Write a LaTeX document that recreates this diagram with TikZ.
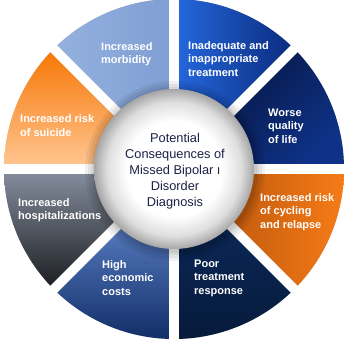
\documentclass[tikz,border=0pt]{standalone}
\usepackage{fontspec}
\setmainfont{Liberation Sans}
\usetikzlibrary{calc}
\definecolor{morbA}{HTML}{94B1DE}
\definecolor{morbB}{HTML}{7F9ED3}
\definecolor{inadA}{HTML}{2466DB}
\definecolor{inadB}{HTML}{0B2C80}
\definecolor{worseA}{HTML}{06143C}
\definecolor{worseB}{HTML}{0E3287}
\definecolor{cycA}{HTML}{B0500C}
\definecolor{cycB}{HTML}{F67B16}
\definecolor{poorA}{HTML}{0E2D63}
\definecolor{poorB}{HTML}{061A3A}
\definecolor{highA}{HTML}{7098E0}
\definecolor{highB}{HTML}{122E68}
\definecolor{hospA}{HTML}{838B9B}
\definecolor{hospB}{HTML}{1D1F23}
\definecolor{suiA}{HTML}{F67808}
\definecolor{suiB}{HTML}{FFC48E}
\definecolor{centertext}{HTML}{1C2248}
\pgfdeclareradialshading{centreball}{\pgfpoint{0bp}{0bp}}{color(0bp)=(white); color(15bp)=(white); color(21bp)=(black!13); color(25bp)=(black!35); color(50bp)=(black!35)}
\newcommand\segpath[2]{([shift={(#1+22.5:13.07)}]C) -- ([shift={(#1+1.69:170)}]C) arc[start angle={#1+1.69}, end angle={#2-1.69}, radius=170] -- cycle}
\tikzset{
  segtext/.style={anchor=west, align=left, inner sep=0pt, text=white, font=\fontsize{11}{13.6}\selectfont\bfseries},
  segshadow/.style={fill=black, opacity=0.09},
  segmorb/.style={left color=morbA, right color=morbB},
  seginad/.style={left color=inadA, right color=inadB},
  segworse/.style={top color=worseA, bottom color=worseB, shading angle=45},
  segcyc/.style={left color=cycA, right color=cycB},
  segpoor/.style={top color=poorA, bottom color=poorB},
  seghigh/.style={top color=highA, bottom color=highB},
  seghosp/.style={top color=hospA, bottom color=hospB},
  segsui/.style={top color=suiA, bottom color=suiB},
}
\begin{document}
\begin{tikzpicture}[x=1pt,y=1pt]
\useasboundingbox (0,0) rectangle (352,350);
\coordinate (C) at (174,181);
% shadows of segments
\foreach \a in {0,45,...,315}{
  \foreach \sx/\sy in {1/-2,2/-3,3/-4.5}{
    \begin{scope}[xshift=\sx, yshift=\sy]
      \fill[segshadow] \segpath{\a}{\a+45};
    \end{scope}
  }
}
% segments
\shade[segworse] \segpath{0}{45};
\shade[seginad] \segpath{45}{90};
\shade[segmorb] \segpath{90}{135};
\shade[segsui] \segpath{135}{180};
\shade[seghosp] \segpath{180}{225};
\shade[seghigh] \segpath{225}{270};
\shade[segpoor] \segpath{270}{315};
\shade[segcyc] \segpath{315}{360};
% centre circle shadow
\foreach \r in {90,87,84,82}{
  \fill[black, opacity=0.06] ([shift={(1,-2)}]C) circle (\r);
}
\shade[shading=centreball] (C) circle (80);
% labels
\node[segtext] (morb) at (101,296) {Increased\\morbidity};
\node[segtext] (sui) at (20,224.5) {Increased risk\\of suicide};
\node[segtext] (inad) at (188,291) {Inadequate and\\inappropriate\\treatment};
\node[segtext] (worse) at (268,224) {Worse\\quality\\of life};
\node[segtext] (cyc) at (260,138) {Increased risk\\of cycling\\and relapse};
\node[segtext] (poor) at (194,72) {Poor\\treatment\\response};
\node[segtext] (high) at (102,72) {High\\economic\\costs};
\node[segtext] (hosp) at (18,140) {Increased\\hospitalizations};
\node[align=center, inner sep=0pt, text=centertext, font=\fontsize{12.8}{16}\selectfont] (centre) at (175,178.5) {Potential\\Consequences of\\Missed Bipolar ı\\Disorder\\Diagnosis};
\end{tikzpicture}
\end{document}
